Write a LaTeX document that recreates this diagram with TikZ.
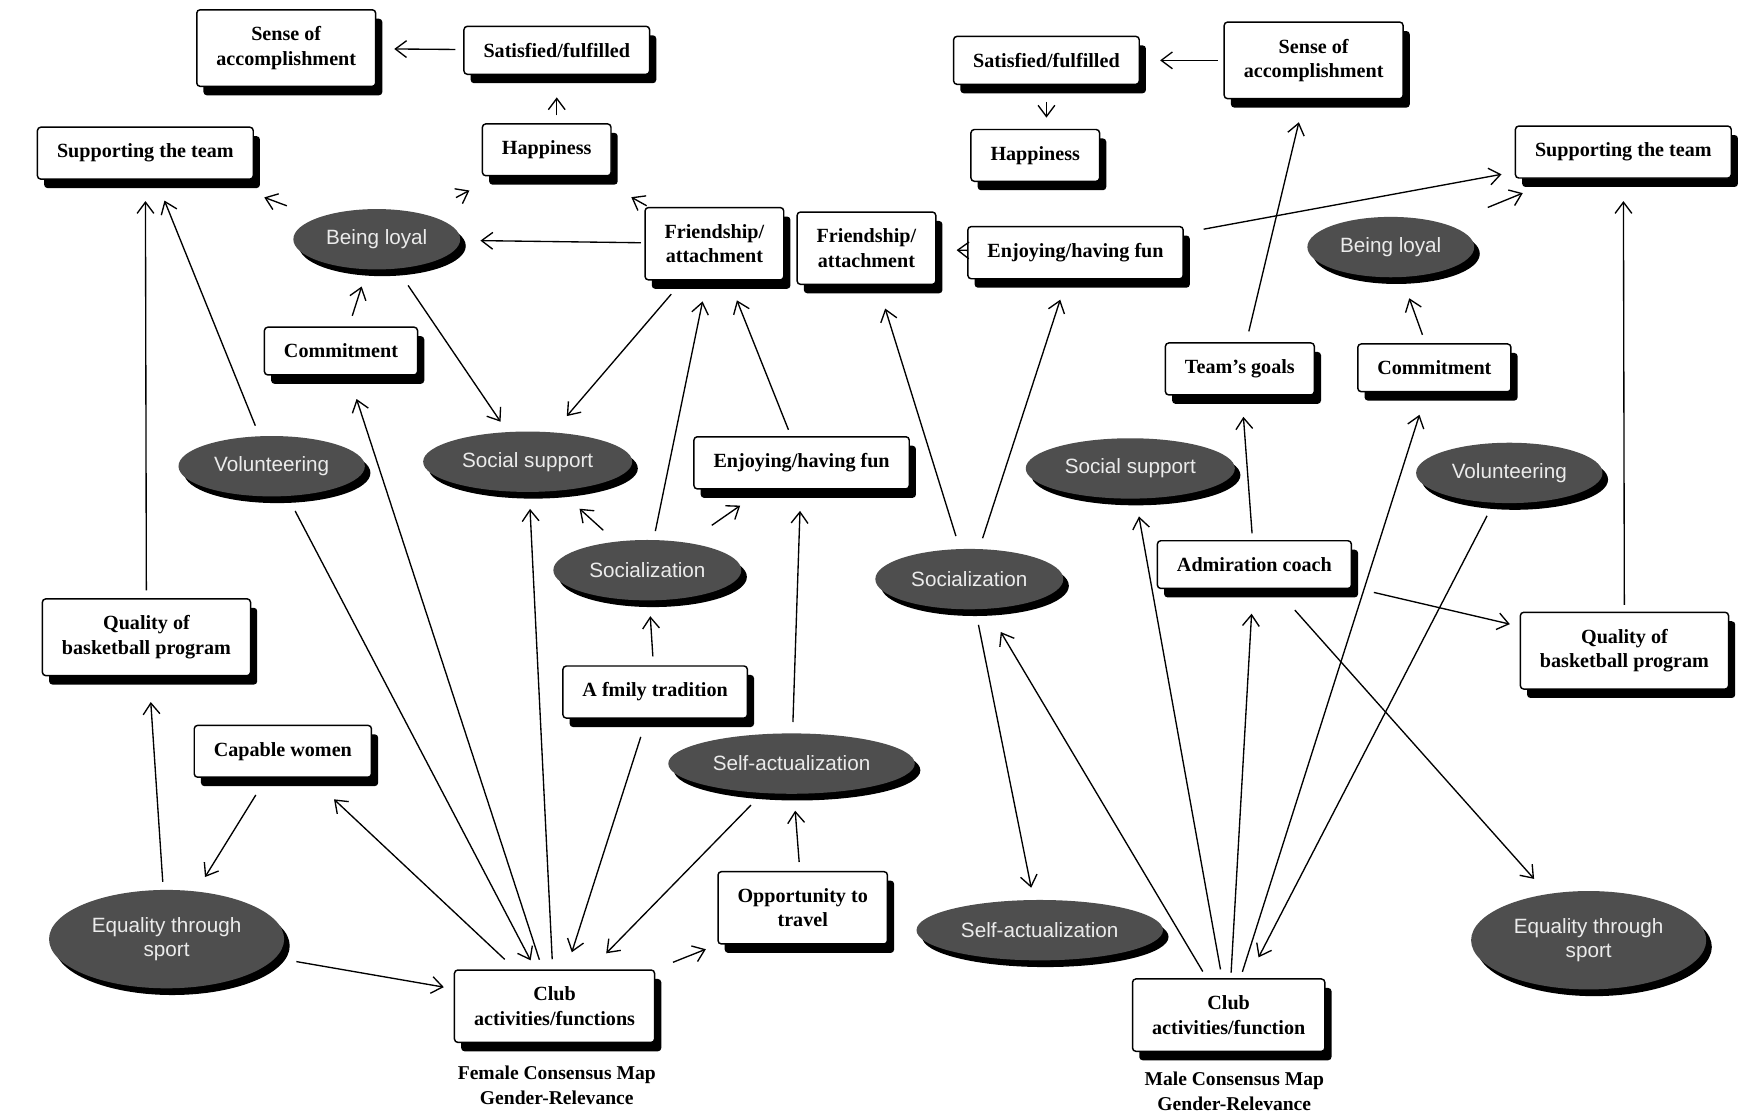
\documentclass[tikz,border=0pt]{standalone}
\usepackage{fontspec}
\setmainfont{Liberation Serif}
\newfontfamily\blobfont{Liberation Sans}
\usepackage{xcolor}
\usetikzlibrary{shapes,arrows.meta,shadows,calc}
\definecolor{blobgray}{RGB}{78,78,78}
\definecolor{blobtext}{RGB}{235,235,235}
\tikzset{
  box/.style={draw, line width=1.3pt, rounded corners=3pt, fill=white, align=center,
    inner xsep=17.5pt, inner ysep=15pt, font=\bfseries\fontsize{18}{22}\selectfont,
    drop shadow={shadow xshift=6pt, shadow yshift=-8pt, fill=black, opacity=1}},
  blob/.style={ellipse, fill=blobgray, text=blobtext, align=center,
    inner xsep=7.5pt, inner ysep=0pt, minimum height=54pt,
    font=\blobfont\fontsize{18.5}{22}\selectfont,
    drop shadow={shadow xshift=5pt, shadow yshift=-6pt, fill=black, opacity=1}},
  mapnote/.style={align=center, font=\bfseries\fontsize{17.5}{22}\selectfont},
  link/.style={line width=1.2pt, -{Straight Barb[length=10pt,width=15pt]},
    shorten <=10pt, shorten >=19pt}
}

\begin{document}
\begin{tikzpicture}[x=1pt,y=-1pt]
    \path[use as bounding box, fill=white] (0,0) rectangle (1568,998);

    % Female map
    \node[box] (sense1) at (256,43) {Sense of\\accomplishment};
    \node[box] (sat1) at (498,45) {Satisfied/fulfilled};
    \node[box] (happy1) at (489,134) {Happiness};
    \node[box] (support1) at (130,137) {Supporting the team};
    \node[blob] (loyal1) at (337,214) {Being loyal};
    \node[box] (friend1) at (639,218) {Friendship/\\attachment};
    \node[box] (commit1) at (305,314) {Commitment};
    \node[blob] (volun1) at (243,417) {Volunteering};
    \node[blob] (social1) at (472,413) {Social support};
    \node[box] (enjoy1) at (717,414) {Enjoying/having fun};
    \node[blob] (socializ1) at (579,510) {Socialization};
    \node[box] (tradition1) at (586,619) {A fmily tradition};
    \node[blob] (selfact1) at (708,683) {Self-actualization};
    \node[box] (quality1) at (131,570) {Quality of\\basketball program};
    \node[box] (capable1) at (253,672) {Capable women};
    \node[blob, minimum height=88pt] (equality1) at (149,840) {Equality through\\sport};
    \node[box] (club1) at (496,900) {Club\\activities/functions};
    \node[box] (travel1) at (718,812) {Opportunity to\\travel};
    \node[mapnote] (femnote) at (498,971) {Female Consensus Map\\Gender-Relevance};

    \draw[link, shorten <=7pt, shorten >=16pt] (sat1) -- (sense1);
    \draw[link, shorten <=7pt, shorten >=20pt] (happy1.north -| sat1.south) -- (sat1.south);
    \draw[link, shorten <=3pt, shorten >=18pt] (friend1) -- (loyal1);
    \draw[link, shorten <=2pt, shorten >=38pt] (friend1) -- (happy1);
    \draw[link, shorten <=32pt, shorten >=27pt] (loyal1) -- (happy1);
    \draw[link, shorten <=30pt, shorten >=45pt] (loyal1) -- (support1);
    \draw[link, shorten <=10pt, shorten >=16pt] (commit1) -- (loyal1);
    \draw[link, shorten <=18pt, shorten >=11pt] (loyal1) -- (social1);
    \draw[link, shorten <=16pt] (friend1) -- (social1);
    \draw[link, shorten >=20pt] (volun1) -- (support1);
    \draw[link, shorten <=7pt] (quality1) -- (support1);
    \draw[link, shorten <=7pt, shorten >=23pt] (equality1) -- (quality1);
    \draw[link, shorten <=18pt, shorten >=15pt] (capable1) -- (equality1);
    \draw[link, shorten <=19pt, shorten >=9pt] (equality1) -- (club1);
    \draw[link, shorten <=13pt, shorten >=28pt] (club1) -- (capable1);
    \draw[link, shorten <=17pt, shorten >=11pt] (club1.north east) -- (travel1.south west);
    \draw[link, shorten <=8pt, shorten >=15pt] (travel1) -- (selfact1);
    \draw[link, shorten <=15pt, shorten >=20pt] (selfact1) -- (club1);
    \draw[link] (selfact1) -- (enjoy1);
    \draw[link, shorten <=6pt] (enjoy1) -- (friend1);
    \draw[link, shorten <=8pt] (socializ1) -- (friend1);
    \draw[link, shorten <=27pt, shorten >=25pt] (socializ1) -- (enjoy1);
    \draw[link, shorten <=15pt, shorten >=24pt] (socializ1) -- (social1);
    \draw[link, shorten <=8pt, shorten >=14pt] (tradition1) -- (socializ1);
    \draw[link, shorten <=15pt, shorten >=9pt] (volun1) -- (club1);
    \draw[link, shorten <=9pt, shorten >=22pt] (club1) -- (commit1);
    \draw[link, shorten <=9pt, shorten >=15pt] (club1) -- (social1);
    \draw[link, shorten <=17pt, shorten >=16pt] (tradition1) -- (club1);

    % Male map
    \node[box] (sat2) at (936,54) {Satisfied/fulfilled};
    \node[box] (sense2) at (1175,54) {Sense of\\accomplishment};
    \node[box] (happy2) at (926,139) {Happiness};
    \node[box] (friend2) at (775,222) {Friendship/\\attachment};
    \node[box] (enjoy2) at (962,226) {Enjoying/having fun};
    \node[box] (support2) at (1452,136) {Supporting the team};
    \node[blob] (loyal2) at (1244,221) {Being loyal};
    \node[box] (goals2) at (1109,330) {Team’s goals};
    \node[box] (commit2) at (1283,329) {Commitment};
    \node[blob] (social2) at (1011,419) {Social support};
    \node[blob] (volun2) at (1350,423) {Volunteering};
    \node[box] (admir2) at (1122,505) {Admiration coach};
    \node[blob] (socializ2) at (867,518) {Socialization};
    \node[box] (quality2) at (1453,582) {Quality of\\basketball program};
    \node[blob] (selfact2) at (930,832) {Self-actualization};
    \node[blob, minimum height=88pt] (equality2) at (1421,841) {Equality through\\sport};
    \node[box] (club2) at (1099,908) {Club\\activities/function};
    \node[mapnote] (malenote) at (1104,976) {Male Consensus Map\\Gender-Relevance};

    \draw[link, shorten <=5pt, shorten >=18pt] (sense2) -- (sat2);
    \draw[link, shorten <=15pt, shorten >=10pt] (sat2.south) -- (happy2.north -| sat2.south);
    \draw[link, shorten <=0pt, shorten >=18pt] (enjoy2) -- (friend2);
    \draw[link, shorten <=18pt, shorten >=12pt] (enjoy2) -- (support2);
    \draw[link, shorten <=40pt, shorten >=34pt] (loyal2) -- (support2);
    \draw[link, shorten >=21pt] (goals2) -- (sense2);
    \draw[link, shorten <=8pt, shorten >=20pt] (commit2) -- (loyal2);
    \draw[link, shorten <=6pt, shorten >=20pt] (quality2) -- (support2);
    \draw[link, shorten <=6pt] (admir2) -- (goals2);
    \draw[link, shorten <=20pt, shorten >=9pt] (admir2) -- (quality2);
    \draw[link, shorten <=25pt, shorten >=18pt] (admir2) -- (equality2);
    \draw[link, shorten <=5pt, shorten >=22pt] (club2) -- (admir2);
    \draw[link, shorten <=8pt, shorten >=16pt] (club2) -- (social2);
    \draw[link, shorten <=6pt, shorten >=21pt] (club2) -- (commit2);
    \draw[link, shorten <=13pt, shorten >=21pt] (volun2) -- (club2);
    \draw[link, shorten <=7pt, shorten >=24pt] (club2) -- (socializ2);
    \draw[link, shorten <=14pt, shorten >=11pt] (socializ2) -- (selfact2);
    \draw[link, shorten <=12pt, shorten >=22pt] (socializ2) -- (friend2);
    \draw[link] (socializ2) -- (enjoy2);
\end{tikzpicture}
\end{document}
